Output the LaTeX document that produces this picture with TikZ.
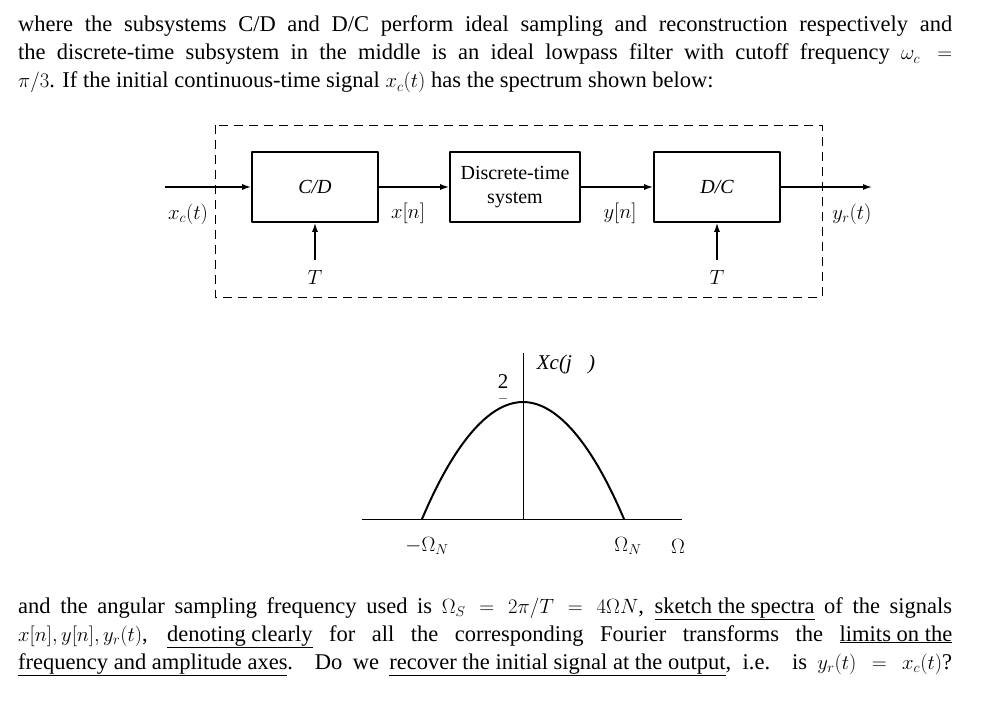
\documentclass[tikz,border=0pt]{standalone}
\usepackage{fontspec}
\setmainfont{Liberation Serif}
\usetikzlibrary{arrows.meta}
\tikzset{
  blockbox/.style={draw,line width=1.6bp,minimum width=126bp,minimum height=70bp,inner sep=0pt,font=\fontsize{20bp}{22bp}\selectfont},
  siglabel/.style={font=\fontsize{22bp}{24bp}\selectfont\itshape,inner sep=0pt},
  sig/.style={line width=1.4bp,-{Latex[length=9bp,width=6bp]}},
  line/.style={anchor=base west,inner sep=0pt,font=\fontsize{22.5bp}{28bp}\selectfont}
}
\newcommand{\jline}[1]{\makebox[934bp][s]{#1}}
\begin{document}
\begin{tikzpicture}[x=1bp,y=-1bp,>=latex,line join=bevel]
\useasboundingbox (0,0) rectangle (990,706);
  % Text: problem statement
  \node[line] (top1) at (18,32) {\jline{where the subsystems C/D and D/C perform ideal sampling and reconstruction respectively and}};
  \node[line] (top2) at (18,60) {\jline{the discrete-time subsystem in the middle is an ideal lowpass filter with cutoff frequency $\omega_c =$}};
  \node[line] (top3) at (18,88) {$\pi/3$. If the initial continuous-time signal $x_c(t)$ has the spectrum shown below:};
  \node[line] (bot1) at (18,613) {\jline{and the angular sampling frequency used is $\Omega_S = 2\pi/T = 4\Omega N$, \underline{sketch the spectra} of the signals}};
  \node[line] (bot2) at (18,641) {\jline{$x[n], y[n], y_r(t)$, \underline{denoting clearly} for all the corresponding Fourier transforms the \underline{limits on the}}};
  \node[line] (bot3) at (18,669) {\jline{\underline{frequency and amplitude axes}. Do we \underline{recover the initial signal at the output}, i.e. is $y_r(t) = x_c(t)$?}};
  % Blocks
  \draw[line width=0.8bp,dash pattern=on 9bp off 6bp] (215,125) rectangle (822,297);
  \node[blockbox] (cd) at (315,187) {\itshape C/D};
  \node[blockbox,minimum width=130bp,align=center,font=\fontsize{20bp}{24bp}\selectfont] (dt) at (515,187) {Discrete-time\\system};
  \node[blockbox] (dc) at (717,187) {\itshape D/C};
  \coordinate (in) at (165,187);
  \coordinate (out) at (872,187);
  \coordinate (tcd) at (315,260);
  \coordinate (tdc) at (717,260);
  % Edges
  \draw[sig] (in) -- (cd);
  \draw[sig] (cd) -- (dt);
  \draw[sig] (dt) -- (dc);
  \draw[sig] (dc) -- (out);
  \draw[sig] (tcd) -- (cd);
  \draw[sig] (tdc) -- (dc);
  % Labels
  \node[siglabel] (xc) at (188,214) {$x_c(t)$};
  \node[siglabel] (xn) at (408,213) {$x[n]$};
  \node[siglabel] (yn) at (620,213) {$y[n]$};
  \node[siglabel] (yr) at (852,214) {$y_r(t)$};
  \node[siglabel] (tl) at (315,277) {$T$};
  \node[siglabel] (tr) at (717,277) {$T$};
  % Spectrum
  \coordinate (axl) at (362,519);
  \coordinate (axr) at (682,519);
  \coordinate (axb) at (523,519);
  \coordinate (axt) at (523,353);
  \draw[line width=0.8bp] (axl) -- (axr);
  \draw[line width=0.8bp] (axb) -- (axt);
  \draw[line width=2bp] (422,519) parabola bend (523,402) (624,519);
  \node[siglabel,font=\fontsize{21bp}{24bp}\selectfont\itshape] (xlab) at (566,364) {Xc(j$\mathit{\Omega}$)};
  \node[siglabel,font=\fontsize{21bp}{22bp}\selectfont] (amp) at (503,382) {2};
  \draw[line width=0.5bp,gray] (499,398) -- (507,398);
  \node[siglabel] (wnl) at (427,546) {$-\Omega_N$};
  \node[siglabel] (wnr) at (628,546) {$\Omega_N$};
  \node[siglabel] (w) at (678,546) {$\Omega$};
\end{tikzpicture}
\end{document}
